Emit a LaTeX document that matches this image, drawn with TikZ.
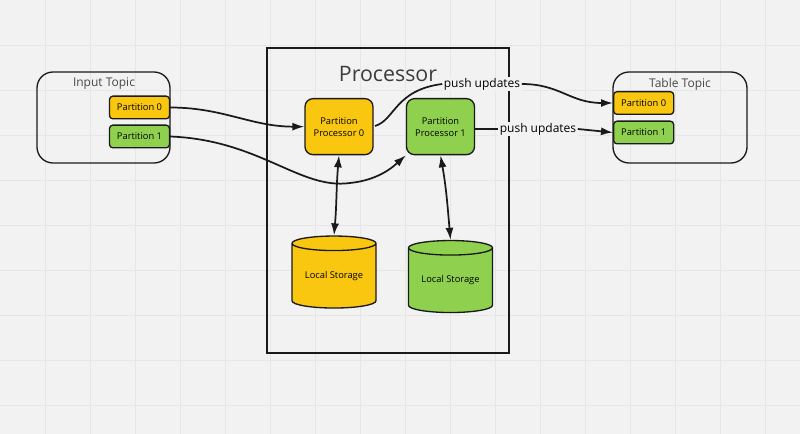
\documentclass[tikz,border=0pt]{standalone}
\usepackage{fontspec}
\setmainfont{Open Sans}
\usetikzlibrary{shapes.geometric, arrows.meta}
\definecolor{bg}{HTML}{F2F2F2}
\definecolor{gridc}{HTML}{E6E6E6}
\definecolor{orng}{HTML}{FAC710}
\definecolor{grn}{HTML}{8FD14F}
\definecolor{ink}{HTML}{1A1A1A}
\begin{document}
\begin{tikzpicture}[x=0.75pt, y=-0.75pt,
  topic/.style={draw=ink, line width=1pt, rounded corners=12pt, inner sep=0pt},
  part/.style={draw=ink, line width=1pt, rounded corners=2.5pt, minimum width=45pt, minimum height=17pt, inner sep=0pt, font=\fontsize{7}{8}\selectfont},
  proc/.style={draw=ink, line width=1pt, rounded corners=6pt, minimum width=51pt, minimum height=42pt, inner sep=0pt, align=center, anchor=north, font=\fontsize{7}{9}\selectfont},
  store/.style={cylinder, shape border rotate=90, aspect=0.25, draw=ink, line width=1pt, minimum width=63pt, minimum height=54pt, inner sep=0pt, font=\fontsize{7}{8}\selectfont},
  conn/.style={-{Latex[length=9pt,width=6pt]}, line width=1.3pt, ink},
  both/.style={{Latex[length=9pt,width=6pt]}-{Latex[length=9pt,width=6pt]}, line width=1.3pt, ink},
  lbl/.style={font=\fontsize{9}{10}\selectfont, fill=bg, inner sep=1pt}]
\fill[bg] (0,0) rectangle (800,434);
\useasboundingbox (0,0) rectangle (800,434);
\foreach \g in {45,90,...,790} \draw[gridc, line width=0.5pt] (\g,0) -- (\g,434);
\foreach \g in {45,90,...,430} \draw[gridc, line width=0.5pt] (0,\g) -- (800,\g);
% input topic
\draw[topic] (37,72) rectangle (170,163);
\node[font=\fontsize{9}{10}\selectfont, text=ink!80] (it) at (104,84) {Input Topic};
\node[part, fill=orng] (ip0) at (139.5,107.5) {Partition 0};
\node[part, fill=grn] (ip1) at (139.5,136.5) {Partition 1};
% processor
\draw[ink, line width=1.2pt] (267,48) rectangle (509,353);
\node[font=\fontsize{16}{18}\selectfont, text=ink!85] (pr) at (388,74) {Processor};
\node[proc, fill=orng] (pp0) at (339,98) {Partition\\Processor 0};
\node[proc, fill=grn] (pp1) at (440.5,98) {Partition\\Processor 1};
\node[store, fill=orng] (ls0) at (334,276) {Local Storage};
\node[store, fill=grn] (ls1) at (450.5,280.5) {Local Storage};
% table topic
\draw[topic] (613,72) rectangle (747,163);
\node[font=\fontsize{9}{10}\selectfont, text=ink!80] (tt) at (680,84) {Table Topic};
\node[part, fill=orng, anchor=west] (tp0) at (613,103) {Partition 0};
\node[part, fill=grn, anchor=west] (tp1) at (613,132.5) {Partition 1};
% connectors
\draw[conn] (ip0.east) to[out=0, in=180] (pp0.west);
\draw[conn] (ip1.east) .. controls (260,140) and (300,190) .. (350,183) .. controls (380,180) and (395,165) .. (pp1.south west);
\node[lbl] (pu0) at (482,84) {push updates};
\node[lbl] (pu1) at (538,129) {push updates};
\coordinate (o0) at (375,126);
\draw[line width=1.3pt, ink] (o0) .. controls (395,120) and (395,90) .. (pu0.west);
\draw[conn] (pu0.east) .. controls (560,84) and (570,103) .. (tp0.west);
\draw[line width=1.3pt, ink] (pp1.east |- pu1) -- (pu1.west);
\draw[conn] (pu1.east) -- (tp1.west);
\draw[both] (pp0.south) to[out=-95, in=85] (ls0.top);
\draw[both] (pp1.south) to[out=-80, in=95] (ls1.top);
\end{tikzpicture}
\end{document}
